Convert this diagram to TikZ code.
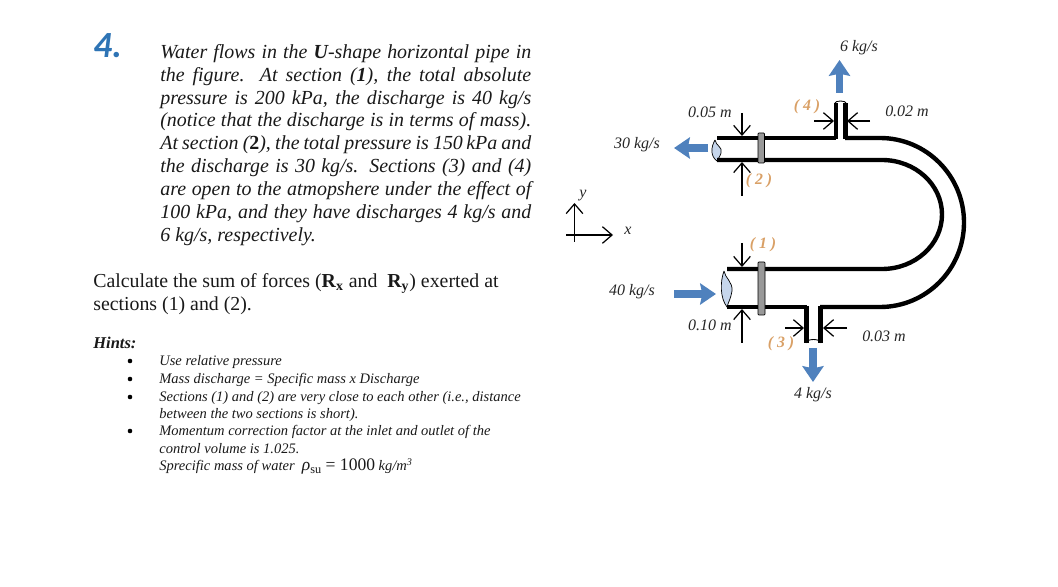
\documentclass[tikz,border=0pt]{standalone}
\usepackage{fontspec}
\setmainfont{Liberation Serif}
\newfontfamily\numfont{Carlito}
\usetikzlibrary{arrows.meta}
\definecolor{flowblue}{HTML}{4F81BD}
\definecolor{numblue}{HTML}{2E74B5}
\definecolor{secorange}{HTML}{D9A066}
\definecolor{waterblue}{HTML}{C6D6EC}
\tikzset{
    bodytext/.style={anchor=north west,inner sep=0pt,align=justify,text=black!90,font=\fontsize{11.35pt}{13pt}\selectfont\itshape},
    plaintext/.style={anchor=north west,inner sep=0pt,align=left,text=black!90,font=\fontsize{11.28pt}{13pt}\selectfont},
    hinttext/.style={anchor=north west,inner sep=0pt,align=left,text=black!90,font=\fontsize{8.26pt}{9.95pt}\selectfont\itshape},
    dimlabel/.style={inner sep=0pt,text=black!85,font=\fontsize{9.1pt}{10pt}\selectfont\itshape},
    seclabel/.style={inner sep=0pt,text=secorange,font=\fontsize{9pt}{10pt}\selectfont\bfseries\itshape},
    wall/.style={line width=2.5pt},
    stub/.style={line width=2.6pt},
    dimarrow/.style={line width=0.7pt,-{Straight Barb[length=5.5pt,width=9.5pt]}},
    flowarrow/.style={draw=flowblue,line width=4pt,-{Stealth[length=9pt,width=12pt,inset=1.2pt]}},
    flange/.style={draw=black,line width=0.4pt,fill=black!40,rounded corners=0.5pt},
    watercap/.style={draw=black,line width=0.4pt,fill=waterblue},
}
\begin{document}
\begin{tikzpicture}[x=0.02cm,y=-0.02cm]
        \useasboundingbox (0,0) rectangle (1058,587);
        %% Problem number
        \node[anchor=west,inner sep=0pt,text=numblue,font=\fontsize{21pt}{21pt}\selectfont\numfont\bfseries\itshape] (number) at (93,46) {4.};
        %% Statement
        \node[bodytext,text width=7.42cm] (statement) at (160,44) {Water flows in the \textbf{U}-shape horizontal pipe in\linebreak
            the figure. At section (\textbf{\textit{1}}), the total absolute\linebreak
            pressure is 200 kPa, the discharge is 40 kg/s\linebreak
            (notice that the discharge is in terms of mass).\linebreak
            At section (\textbf{\upshape 2}), the total pressure is 150\,kPa and\linebreak
            the discharge is 30 kg/s. Sections (3) and (4)\linebreak
            are open to the atmopshere under the effect of\linebreak
            100 kPa, and they have discharges 4 kg/s and\linebreak
            6 kg/s, respectively.};
        \node[plaintext] (task) at (93,273) {Calculate the sum of forces (\textbf{R\textsubscript{x}} and\ \ \textbf{R\textsubscript{y}}) exerted at\\sections (1) and (2).};
        %% Hints
        \node[anchor=north west,inner sep=0pt,text=black!90,font=\fontsize{9.4pt}{11pt}\selectfont\bfseries\itshape] (hints) at (93,337) {Hints:};
        \foreach \y in {361,379,397,431}
            \fill (130,\y) circle (2.3);
        \node[hinttext] (hintA) at (159,355) {Use relative pressure};
        \node[hinttext] (hintB) at (159,373) {Mass discharge = Specific mass x Discharge};
        \node[hinttext] (hintC) at (159,391) {Sections (1) and (2) are very close to each other (i.e., distance\\between the two sections is short).};
        \node[hinttext] (hintD) at (159,425) {Momentum correction factor at the inlet and outlet of the\\control volume is 1.025.\\Sprecific mass of water\ \ {\upshape\fontsize{10pt}{9.95pt}\selectfont\textit{ρ}\raisebox{-1.5pt}{\fontsize{7pt}{7pt}\selectfont su} = 1000} kg/m\textsuperscript{3}};
        %% Axes
        \draw[dimarrow] (574.5,242) -- (574.5,203);
        \draw[dimarrow] (566,235) -- (613,235);
        \node[dimlabel] (ylabel) at (583,196) {y};
        \node[dimlabel] (xlabel) at (628,231) {x};
        %% Flanged ends, water surface
        \draw[watercap] (715,140) .. controls (716,146) and (723,147) .. (721,153) .. controls (720,157) and (717,160) .. (717,161) .. controls (710,156) and (711,147) .. (715,140);
        \draw[watercap] (724,271) .. controls (725,278) and (733,282) .. (732,291) .. controls (731,298) and (728,303) .. (727,307) .. controls (720,298) and (720,282) .. (724,271);
        %% Outer wall of U
        \draw[wall] (717,138) -- (836,138);
        \draw[wall] (845,138) -- (880,138) arc[start angle=-90,end angle=90,x radius=84,y radius=84.5] -- (820,307);
        \draw[wall] (807,307) -- (727,307);
        %% Inner wall of U
        \draw[wall] (717,160) -- (882,160) arc[start angle=-90,end angle=90,x radius=60,y radius=54.5] -- (727,269);
        %% Branch (4)
        \draw[stub] (836,139) -- (836,103);
        \draw[stub] (845.5,139) -- (845.5,103);
        \draw[line width=0.5pt] (835,103) arc[start angle=180,end angle=360,x radius=5.5,y radius=2];
        %% Branch (3)
        \draw[stub] (806.5,306) -- (806.5,343);
        \draw[stub] (820.5,306) -- (820.5,343);
        \draw[line width=0.5pt] (806,343) arc[start angle=180,end angle=360,x radius=7.5,y radius=3.5];
        %% Flanges
        \draw[flange] (758,133) rectangle (764.5,163);
        \draw[flange] (758,262) rectangle (765,315);
        %% Flow arrows
        \draw[flowarrow] (708,148) -- (674,148);
        \draw[flowarrow] (674,294) -- (716,294);
        \draw[flowarrow] (839.5,93) -- (839.5,60);
        \draw[flowarrow] (813,348) -- (813,382);
        \node[dimlabel] (flowB) at (637,145) {30 kg/s};
        \node[dimlabel] (flowA) at (632,292) {40 kg/s};
        \node[dimlabel] (flowD) at (859,48) {6 kg/s};
        \node[dimlabel] (flowC) at (813,395) {4 kg/s};
        %% Diameters
        \draw[dimarrow] (742,113) -- (742,136);
        \draw[dimarrow] (742,196) -- (742,162);
        \draw[dimarrow] (742,243) -- (742,267);
        \draw[dimarrow] (742,343) -- (742,309);
        \draw[dimarrow] (814,121) -- (834,121);
        \draw[dimarrow] (870,121) -- (847,121);
        \draw[dimarrow] (785,328) -- (804,328);
        \draw[dimarrow] (847,328) -- (823,328);
        \node[dimlabel] (diamB) at (710,112) {0.05 m};
        \node[dimlabel] (diamD) at (907,111) {0.02 m};
        \node[dimlabel] (diamA) at (710,325) {0.10 m};
        \node[dimlabel] (diamC) at (884,336) {0.03 m};
        %% Sections
        \node[seclabel] (secA) at (763,245) {( 1 )};
        \node[seclabel] (secB) at (759,181) {( 2 )};
        \node[seclabel] (secC) at (781,344) {( 3 )};
        \node[seclabel] (secD) at (807,107) {( 4 )};
    \end{tikzpicture}
\end{document}
